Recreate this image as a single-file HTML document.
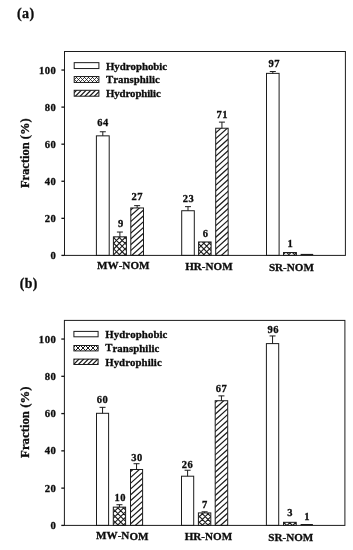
<!DOCTYPE html>
<html><head><meta charset="utf-8"><title>Fraction chart</title>
<style>
html,body{margin:0;padding:0;background:#fff;}
svg{display:block;filter:blur(0.3px);}
text{font-family:"Liberation Serif",serif;font-weight:bold;fill:#0c0c0c;stroke:#0c0c0c;stroke-width:0.3px;font-kerning:none;}
</style></head>
<body>
<svg width="353" height="550" viewBox="0 0 353 550">
<rect width="353" height="550" fill="#fff"/>
<rect x="96.40" y="135.84" width="12.80" height="119.56" fill="#fff" stroke="#1c1c1c" stroke-width="1.0"/>
<path d="M102.80 135.84V131.76M99.80 131.76H105.80" stroke="#1c1c1c" stroke-width="1.0" fill="none"/>
<text transform="rotate(0.02 103.00 126.20)" x="103.00" y="126.20" text-anchor="middle" font-size="10.5" letter-spacing="0.5">64</text>
<clipPath id="c1"><rect x="113.40" y="236.86" width="13.00" height="18.54"/></clipPath>
<rect x="113.40" y="236.86" width="13.00" height="18.54" fill="#fff"/>
<path d="M112.40 227.57L127.40 212.57M112.40 233.24L127.40 218.24M112.40 238.91L127.40 223.91M112.40 244.58L127.40 229.58M112.40 250.25L127.40 235.25M112.40 255.92L127.40 240.92M112.40 261.59L127.40 246.59M112.40 267.26L127.40 252.26M112.40 272.93L127.40 257.93M112.40 278.60L127.40 263.60M112.40 213.67L127.40 228.67M112.40 219.34L127.40 234.34M112.40 225.01L127.40 240.01M112.40 230.68L127.40 245.68M112.40 236.35L127.40 251.35M112.40 242.02L127.40 257.02M112.40 247.69L127.40 262.69M112.40 253.36L127.40 268.36M112.40 259.03L127.40 274.03M112.40 264.70L127.40 279.70" stroke="#1c1c1c" stroke-width="1.1" fill="none" clip-path="url(#c1)"/>
<rect x="113.40" y="236.86" width="13.00" height="18.54" fill="none" stroke="#1c1c1c" stroke-width="1.0"/>
<path d="M119.90 236.86V232.04M116.90 232.04H122.90" stroke="#1c1c1c" stroke-width="1.0" fill="none"/>
<text transform="rotate(0.02 120.50 227.50)" x="120.50" y="227.50" text-anchor="middle" font-size="10.5" letter-spacing="0">9</text>
<clipPath id="c2"><rect x="130.80" y="207.95" width="12.70" height="47.45"/></clipPath>
<rect x="130.80" y="207.95" width="12.70" height="47.45" fill="#fff"/>
<path d="M129.80 199.20L144.50 185.97M129.80 205.00L144.50 191.77M129.80 210.80L144.50 197.57M129.80 216.60L144.50 203.37M129.80 222.40L144.50 209.17M129.80 228.20L144.50 214.97M129.80 234.00L144.50 220.77M129.80 239.80L144.50 226.57M129.80 245.60L144.50 232.37M129.80 251.40L144.50 238.17M129.80 257.20L144.50 243.97M129.80 263.00L144.50 249.77M129.80 268.80L144.50 255.57M129.80 274.60L144.50 261.37" stroke="#1c1c1c" stroke-width="1.2" fill="none" clip-path="url(#c2)"/>
<rect x="130.80" y="207.95" width="12.70" height="47.45" fill="none" stroke="#1c1c1c" stroke-width="1.0"/>
<path d="M137.15 207.95V205.63M134.15 205.63H140.15" stroke="#1c1c1c" stroke-width="1.0" fill="none"/>
<text transform="rotate(0.02 137.25 200.40)" x="137.25" y="200.40" text-anchor="middle" font-size="10.5" letter-spacing="0.5">27</text>
<rect x="181.70" y="210.73" width="12.60" height="44.67" fill="#fff" stroke="#1c1c1c" stroke-width="1.0"/>
<path d="M188.00 210.73V206.65M185.00 206.65H191.00" stroke="#1c1c1c" stroke-width="1.0" fill="none"/>
<text transform="rotate(0.02 188.55 201.80)" x="188.55" y="201.80" text-anchor="middle" font-size="10.5" letter-spacing="0.5">23</text>
<clipPath id="c3"><rect x="198.60" y="241.96" width="12.50" height="13.44"/></clipPath>
<rect x="198.60" y="241.96" width="12.50" height="13.44" fill="#fff"/>
<path d="M197.60 232.42L212.10 217.92M197.60 238.09L212.10 223.59M197.60 243.76L212.10 229.26M197.60 249.43L212.10 234.93M197.60 255.10L212.10 240.60M197.60 260.77L212.10 246.27M197.60 266.44L212.10 251.94M197.60 272.11L212.10 257.61M197.60 277.78L212.10 263.28M197.60 220.02L212.10 234.52M197.60 225.69L212.10 240.19M197.60 231.36L212.10 245.86M197.60 237.03L212.10 251.53M197.60 242.70L212.10 257.20M197.60 248.37L212.10 262.87M197.60 254.04L212.10 268.54M197.60 259.71L212.10 274.21M197.60 265.38L212.10 279.88" stroke="#1c1c1c" stroke-width="1.1" fill="none" clip-path="url(#c3)"/>
<rect x="198.60" y="241.96" width="12.50" height="13.44" fill="none" stroke="#1c1c1c" stroke-width="1.0"/>
<text transform="rotate(0.02 205.45 237.20)" x="205.45" y="237.20" text-anchor="middle" font-size="10.5" letter-spacing="0">6</text>
<clipPath id="c4"><rect x="215.70" y="128.24" width="12.45" height="127.16"/></clipPath>
<rect x="215.70" y="128.24" width="12.45" height="127.16" fill="#fff"/>
<path d="M214.70 122.20L229.15 109.19M214.70 128.00L229.15 114.99M214.70 133.80L229.15 120.79M214.70 139.60L229.15 126.59M214.70 145.40L229.15 132.39M214.70 151.20L229.15 138.19M214.70 157.00L229.15 144.00M214.70 162.80L229.15 149.79M214.70 168.60L229.15 155.59M214.70 174.40L229.15 161.39M214.70 180.20L229.15 167.19M214.70 186.00L229.15 172.99M214.70 191.80L229.15 178.79M214.70 197.60L229.15 184.59M214.70 203.40L229.15 190.39M214.70 209.20L229.15 196.19M214.70 215.00L229.15 201.99M214.70 220.80L229.15 207.79M214.70 226.60L229.15 213.59M214.70 232.40L229.15 219.39M214.70 238.20L229.15 225.19M214.70 244.00L229.15 230.99M214.70 249.80L229.15 236.79M214.70 255.60L229.15 242.59M214.70 261.40L229.15 248.39M214.70 267.20L229.15 254.19M214.70 273.00L229.15 260.00M214.70 278.80L229.15 265.79" stroke="#1c1c1c" stroke-width="1.2" fill="none" clip-path="url(#c4)"/>
<rect x="215.70" y="128.24" width="12.45" height="127.16" fill="none" stroke="#1c1c1c" stroke-width="1.0"/>
<path d="M221.93 128.24V122.12M218.93 122.12H224.93" stroke="#1c1c1c" stroke-width="1.0" fill="none"/>
<text transform="rotate(0.02 222.25 118.40)" x="222.25" y="118.40" text-anchor="middle" font-size="10.5" letter-spacing="0.5">71</text>
<rect x="266.50" y="73.37" width="12.60" height="182.03" fill="#fff" stroke="#1c1c1c" stroke-width="1.0"/>
<path d="M272.80 73.37V71.52M269.80 71.52H275.80" stroke="#1c1c1c" stroke-width="1.0" fill="none"/>
<text transform="rotate(0.02 274.25 67.10)" x="274.25" y="67.10" text-anchor="middle" font-size="10.5" letter-spacing="0.5">97</text>
<clipPath id="c5"><rect x="283.50" y="252.53" width="12.90" height="2.87"/></clipPath>
<rect x="283.50" y="252.53" width="12.90" height="2.87" fill="#fff"/>
<path d="M282.50 243.94L297.40 229.04M282.50 249.61L297.40 234.71M282.50 255.28L297.40 240.38M282.50 260.95L297.40 246.05M282.50 266.62L297.40 251.72M282.50 272.29L297.40 257.39M282.50 277.96L297.40 263.06M282.50 231.24L297.40 246.14M282.50 236.91L297.40 251.81M282.50 242.58L297.40 257.48M282.50 248.25L297.40 263.15M282.50 253.92L297.40 268.82M282.50 259.59L297.40 274.49M282.50 265.26L297.40 280.16" stroke="#1c1c1c" stroke-width="1.1" fill="none" clip-path="url(#c5)"/>
<rect x="283.50" y="252.53" width="12.90" height="2.87" fill="none" stroke="#1c1c1c" stroke-width="1.0"/>
<text transform="rotate(0.02 290.20 247.20)" x="290.20" y="247.20" text-anchor="middle" font-size="10.5" letter-spacing="0">1</text>
<line x1="300.60" y1="254.60" x2="313.20" y2="254.60" stroke="#1c1c1c" stroke-width="1.4"/>
<rect x="64.5" y="51.5" width="280.9" height="203.9" fill="none" stroke="#1c1c1c" stroke-width="1.0"/>
<line x1="61.4" y1="255.40" x2="64.5" y2="255.40" stroke="#111" stroke-width="1.3"/>
<text transform="rotate(0.02 55.8 259.10)" x="55.8" y="259.10" text-anchor="end" font-size="10.6" letter-spacing="0">0</text>
<line x1="61.4" y1="218.33" x2="64.5" y2="218.33" stroke="#111" stroke-width="1.3"/>
<text transform="rotate(0.02 56.25 222.03)" x="56.25" y="222.03" text-anchor="end" font-size="10.6" letter-spacing="0.45">20</text>
<line x1="61.4" y1="181.25" x2="64.5" y2="181.25" stroke="#111" stroke-width="1.3"/>
<text transform="rotate(0.02 56.25 184.95)" x="56.25" y="184.95" text-anchor="end" font-size="10.6" letter-spacing="0.45">40</text>
<line x1="61.4" y1="144.18" x2="64.5" y2="144.18" stroke="#111" stroke-width="1.3"/>
<text transform="rotate(0.02 56.25 147.88)" x="56.25" y="147.88" text-anchor="end" font-size="10.6" letter-spacing="0.45">60</text>
<line x1="61.4" y1="107.11" x2="64.5" y2="107.11" stroke="#111" stroke-width="1.3"/>
<text transform="rotate(0.02 56.25 110.81)" x="56.25" y="110.81" text-anchor="end" font-size="10.6" letter-spacing="0.45">80</text>
<line x1="61.4" y1="70.04" x2="64.5" y2="70.04" stroke="#111" stroke-width="1.3"/>
<text transform="rotate(0.02 56.25 73.74)" x="56.25" y="73.74" text-anchor="end" font-size="10.6" letter-spacing="0.45">100</text>
<text transform="rotate(0.02 123.3 269.3)" x="123.3" y="269.3" text-anchor="middle" font-size="11.1">MW-NOM</text>
<text transform="rotate(0.02 208.9 270.2)" x="208.9" y="270.2" text-anchor="middle" font-size="11.1">HR-NOM</text>
<text transform="rotate(0.02 291.4 270.7)" x="291.4" y="270.7" text-anchor="middle" font-size="11.1">SR-NOM</text>
<text transform="translate(29.0 153.2) rotate(-90)" text-anchor="middle" font-size="12.5">Fraction (%)</text>
<text transform="rotate(0.02 16.9 18.3)" x="16.9" y="18.3" font-size="14" letter-spacing="0.45">(a)</text>
<rect x="74.20" y="62.65" width="24.70" height="5.90" fill="#fff" stroke="#1c1c1c" stroke-width="1.0"/>
<text transform="rotate(0.02 105.9 69.6)" x="105.9" y="69.6" font-size="10.8" letter-spacing="0">Hydrophobic</text>
<clipPath id="c6"><rect x="74.20" y="76.55" width="24.70" height="5.90"/></clipPath>
<rect x="74.20" y="76.55" width="24.70" height="5.90" fill="#fff"/>
<path d="M73.20 72.80L99.90 46.10M73.20 76.80L99.90 50.10M73.20 80.80L99.90 54.10M73.20 84.80L99.90 58.10M73.20 88.80L99.90 62.10M73.20 92.80L99.90 66.10M73.20 96.80L99.90 70.10M73.20 100.80L99.90 74.10M73.20 104.80L99.90 78.10M73.20 108.80L99.90 82.10M73.20 112.80L99.90 86.10M73.20 46.20L99.90 72.90M73.20 50.20L99.90 76.90M73.20 54.20L99.90 80.90M73.20 58.20L99.90 84.90M73.20 62.20L99.90 88.90M73.20 66.20L99.90 92.90M73.20 70.20L99.90 96.90M73.20 74.20L99.90 100.90M73.20 78.20L99.90 104.90M73.20 82.20L99.90 108.90M73.20 86.20L99.90 112.90" stroke="#1c1c1c" stroke-width="0.8" fill="none" clip-path="url(#c6)"/>
<rect x="74.20" y="76.55" width="24.70" height="5.90" fill="none" stroke="#1c1c1c" stroke-width="1.0"/>
<text transform="rotate(0.02 105.9 83.1)" x="105.9" y="83.1" font-size="10.8" letter-spacing="0.05">Transphilic</text>
<clipPath id="c7"><rect x="74.20" y="90.30" width="24.70" height="5.90"/></clipPath>
<rect x="74.20" y="90.30" width="24.70" height="5.90" fill="#fff"/>
<path d="M73.20 84.12L99.90 57.42M73.20 88.88L99.90 62.18M73.20 93.64L99.90 66.94M73.20 98.40L99.90 71.70M73.20 103.16L99.90 76.46M73.20 107.92L99.90 81.22M73.20 112.68L99.90 85.98M73.20 117.44L99.90 90.74M73.20 122.20L99.90 95.50M73.20 126.96L99.90 100.26" stroke="#1c1c1c" stroke-width="1.25" fill="none" clip-path="url(#c7)"/>
<rect x="74.20" y="90.30" width="24.70" height="5.90" fill="none" stroke="#1c1c1c" stroke-width="1.0"/>
<text transform="rotate(0.02 105.9 96.7)" x="105.9" y="96.7" font-size="10.8" letter-spacing="-0.1">Hydrophilic</text>
<rect x="96.50" y="413.30" width="12.10" height="112.10" fill="#fff" stroke="#1c1c1c" stroke-width="1.0"/>
<path d="M102.55 413.30V407.34M99.55 407.34H105.55" stroke="#1c1c1c" stroke-width="1.0" fill="none"/>
<text transform="rotate(0.02 102.55 403.30)" x="102.55" y="403.30" text-anchor="middle" font-size="10.5" letter-spacing="0.5">60</text>
<clipPath id="c8"><rect x="113.30" y="507.14" width="12.30" height="18.26"/></clipPath>
<rect x="113.30" y="507.14" width="12.30" height="18.26" fill="#fff"/>
<path d="M112.30 502.19L126.60 487.89M112.30 507.86L126.60 493.56M112.30 513.53L126.60 499.23M112.30 519.20L126.60 504.90M112.30 524.87L126.60 510.57M112.30 530.54L126.60 516.24M112.30 536.21L126.60 521.91M112.30 541.88L126.60 527.58M112.30 547.55L126.60 533.25M112.30 485.32L126.60 499.62M112.30 490.99L126.60 505.29M112.30 496.66L126.60 510.96M112.30 502.33L126.60 516.63M112.30 508.00L126.60 522.30M112.30 513.67L126.60 527.97M112.30 519.34L126.60 533.64M112.30 525.01L126.60 539.31M112.30 530.68L126.60 544.98" stroke="#1c1c1c" stroke-width="1.1" fill="none" clip-path="url(#c8)"/>
<rect x="113.30" y="507.14" width="12.30" height="18.26" fill="none" stroke="#1c1c1c" stroke-width="1.0"/>
<path d="M119.45 507.14V504.71M116.45 504.71H122.45" stroke="#1c1c1c" stroke-width="1.0" fill="none"/>
<text transform="rotate(0.02 120.35 501.00)" x="120.35" y="501.00" text-anchor="middle" font-size="10.5" letter-spacing="0.5">10</text>
<clipPath id="c9"><rect x="130.50" y="469.49" width="12.10" height="55.91"/></clipPath>
<rect x="130.50" y="469.49" width="12.10" height="55.91" fill="#fff"/>
<path d="M129.50 461.00L143.60 448.31M129.50 466.80L143.60 454.11M129.50 472.60L143.60 459.91M129.50 478.40L143.60 465.71M129.50 484.20L143.60 471.51M129.50 490.00L143.60 477.31M129.50 495.80L143.60 483.11M129.50 501.60L143.60 488.91M129.50 507.40L143.60 494.71M129.50 513.20L143.60 500.51M129.50 519.00L143.60 506.31M129.50 524.80L143.60 512.11M129.50 530.60L143.60 517.91M129.50 536.40L143.60 523.71M129.50 542.20L143.60 529.51M129.50 548.00L143.60 535.31" stroke="#1c1c1c" stroke-width="1.2" fill="none" clip-path="url(#c9)"/>
<rect x="130.50" y="469.49" width="12.10" height="55.91" fill="none" stroke="#1c1c1c" stroke-width="1.0"/>
<path d="M136.55 469.49V463.71M133.55 463.71H139.55" stroke="#1c1c1c" stroke-width="1.0" fill="none"/>
<text transform="rotate(0.02 137.05 461.30)" x="137.05" y="461.30" text-anchor="middle" font-size="10.5" letter-spacing="0.5">30</text>
<rect x="181.50" y="476.20" width="12.20" height="49.20" fill="#fff" stroke="#1c1c1c" stroke-width="1.0"/>
<path d="M187.60 476.20V470.24M184.60 470.24H190.60" stroke="#1c1c1c" stroke-width="1.0" fill="none"/>
<text transform="rotate(0.02 187.55 467.60)" x="187.55" y="467.60" text-anchor="middle" font-size="10.5" letter-spacing="0.5">26</text>
<clipPath id="c10"><rect x="198.40" y="512.91" width="12.40" height="12.49"/></clipPath>
<rect x="198.40" y="512.91" width="12.40" height="12.49" fill="#fff"/>
<path d="M197.40 507.39L211.80 492.99M197.40 513.06L211.80 498.66M197.40 518.73L211.80 504.33M197.40 524.40L211.80 510.00M197.40 530.07L211.80 515.67M197.40 535.74L211.80 521.34M197.40 541.41L211.80 527.01M197.40 547.08L211.80 532.68M197.40 491.79L211.80 506.19M197.40 497.46L211.80 511.86M197.40 503.13L211.80 517.53M197.40 508.80L211.80 523.20M197.40 514.47L211.80 528.87M197.40 520.14L211.80 534.54M197.40 525.81L211.80 540.21M197.40 531.48L211.80 545.88" stroke="#1c1c1c" stroke-width="1.1" fill="none" clip-path="url(#c10)"/>
<rect x="198.40" y="512.91" width="12.40" height="12.49" fill="none" stroke="#1c1c1c" stroke-width="1.0"/>
<path d="M204.60 512.91V511.80M201.60 511.80H207.60" stroke="#1c1c1c" stroke-width="1.0" fill="none"/>
<text transform="rotate(0.02 204.60 507.80)" x="204.60" y="507.80" text-anchor="middle" font-size="10.5" letter-spacing="0">7</text>
<clipPath id="c11"><rect x="215.20" y="400.72" width="12.50" height="124.68"/></clipPath>
<rect x="215.20" y="400.72" width="12.50" height="124.68" fill="#fff"/>
<path d="M214.20 391.90L228.70 378.85M214.20 397.70L228.70 384.65M214.20 403.50L228.70 390.45M214.20 409.30L228.70 396.25M214.20 415.10L228.70 402.05M214.20 420.90L228.70 407.85M214.20 426.70L228.70 413.65M214.20 432.50L228.70 419.45M214.20 438.30L228.70 425.25M214.20 444.10L228.70 431.05M214.20 449.90L228.70 436.85M214.20 455.70L228.70 442.65M214.20 461.50L228.70 448.45M214.20 467.30L228.70 454.25M214.20 473.10L228.70 460.05M214.20 478.90L228.70 465.85M214.20 484.70L228.70 471.65M214.20 490.50L228.70 477.45M214.20 496.30L228.70 483.25M214.20 502.10L228.70 489.05M214.20 507.90L228.70 494.85M214.20 513.70L228.70 500.65M214.20 519.50L228.70 506.45M214.20 525.30L228.70 512.25M214.20 531.10L228.70 518.05M214.20 536.90L228.70 523.85M214.20 542.70L228.70 529.65M214.20 548.50L228.70 535.45" stroke="#1c1c1c" stroke-width="1.2" fill="none" clip-path="url(#c11)"/>
<rect x="215.20" y="400.72" width="12.50" height="124.68" fill="none" stroke="#1c1c1c" stroke-width="1.0"/>
<path d="M221.45 400.72V395.88M218.45 395.88H224.45" stroke="#1c1c1c" stroke-width="1.0" fill="none"/>
<text transform="rotate(0.02 221.45 391.80)" x="221.45" y="391.80" text-anchor="middle" font-size="10.5" letter-spacing="0.5">67</text>
<rect x="266.40" y="343.60" width="12.30" height="181.80" fill="#fff" stroke="#1c1c1c" stroke-width="1.0"/>
<path d="M272.55 343.60V335.96M269.55 335.96H275.55" stroke="#1c1c1c" stroke-width="1.0" fill="none"/>
<text transform="rotate(0.02 273.35 333.30)" x="273.35" y="333.30" text-anchor="middle" font-size="10.5" letter-spacing="0.5">96</text>
<clipPath id="c12"><rect x="283.50" y="522.32" width="12.70" height="3.08"/></clipPath>
<rect x="283.50" y="522.32" width="12.70" height="3.08" fill="#fff"/>
<path d="M282.50 512.99L297.20 498.29M282.50 518.66L297.20 503.96M282.50 524.33L297.20 509.63M282.50 530.00L297.20 515.30M282.50 535.67L297.20 520.97M282.50 541.34L297.20 526.64M282.50 547.01L297.20 532.31M282.50 498.52L297.20 513.22M282.50 504.19L297.20 518.89M282.50 509.86L297.20 524.56M282.50 515.53L297.20 530.23M282.50 521.20L297.20 535.90M282.50 526.87L297.20 541.57M282.50 532.54L297.20 547.24" stroke="#1c1c1c" stroke-width="1.1" fill="none" clip-path="url(#c12)"/>
<rect x="283.50" y="522.32" width="12.70" height="3.08" fill="none" stroke="#1c1c1c" stroke-width="1.0"/>
<text transform="rotate(0.02 289.80 516.20)" x="289.80" y="516.20" text-anchor="middle" font-size="10.5" letter-spacing="0">3</text>
<line x1="300.60" y1="524.70" x2="312.90" y2="524.70" stroke="#1c1c1c" stroke-width="1.4"/>
<text transform="rotate(0.02 307.00 520.00)" x="307.00" y="520.00" text-anchor="middle" font-size="10.5" letter-spacing="0">1</text>
<rect x="64.4" y="320.4" width="280.5" height="205.0" fill="none" stroke="#1c1c1c" stroke-width="1.0"/>
<line x1="61.300000000000004" y1="525.40" x2="64.4" y2="525.40" stroke="#111" stroke-width="1.3"/>
<text transform="rotate(0.02 55.8 529.00)" x="55.8" y="529.00" text-anchor="end" font-size="10.7" letter-spacing="0">0</text>
<line x1="61.300000000000004" y1="488.13" x2="64.4" y2="488.13" stroke="#111" stroke-width="1.3"/>
<text transform="rotate(0.02 56.25 491.73)" x="56.25" y="491.73" text-anchor="end" font-size="10.7" letter-spacing="0.45">20</text>
<line x1="61.300000000000004" y1="450.85" x2="64.4" y2="450.85" stroke="#111" stroke-width="1.3"/>
<text transform="rotate(0.02 56.25 454.45)" x="56.25" y="454.45" text-anchor="end" font-size="10.7" letter-spacing="0.45">40</text>
<line x1="61.300000000000004" y1="413.58" x2="64.4" y2="413.58" stroke="#111" stroke-width="1.3"/>
<text transform="rotate(0.02 56.25 417.18)" x="56.25" y="417.18" text-anchor="end" font-size="10.7" letter-spacing="0.45">60</text>
<line x1="61.300000000000004" y1="376.31" x2="64.4" y2="376.31" stroke="#111" stroke-width="1.3"/>
<text transform="rotate(0.02 56.25 379.91)" x="56.25" y="379.91" text-anchor="end" font-size="10.7" letter-spacing="0.45">80</text>
<line x1="61.300000000000004" y1="339.04" x2="64.4" y2="339.04" stroke="#111" stroke-width="1.3"/>
<text transform="rotate(0.02 56.25 342.64)" x="56.25" y="342.64" text-anchor="end" font-size="10.7" letter-spacing="0.45">100</text>
<text transform="rotate(0.02 122.3 539.5)" x="122.3" y="539.5" text-anchor="middle" font-size="11.1">MW-NOM</text>
<text transform="rotate(0.02 208.4 540.4)" x="208.4" y="540.4" text-anchor="middle" font-size="11.1">HR-NOM</text>
<text transform="rotate(0.02 290.8 540.7)" x="290.8" y="540.7" text-anchor="middle" font-size="11.1">SR-NOM</text>
<text transform="translate(29.4 422.2) rotate(-90)" text-anchor="middle" font-size="12.8">Fraction (%)</text>
<text transform="rotate(0.02 19.8 288.0)" x="19.8" y="288.0" font-size="13.7" letter-spacing="0.45">(b)</text>
<rect x="73.90" y="331.40" width="24.20" height="5.40" fill="#fff" stroke="#1c1c1c" stroke-width="1.0"/>
<text transform="rotate(0.02 105.2 337.9)" x="105.2" y="337.9" font-size="10.8" letter-spacing="0.1">Hydrophobic</text>
<clipPath id="c13"><rect x="73.90" y="345.50" width="24.20" height="5.40"/></clipPath>
<rect x="73.90" y="345.50" width="24.20" height="5.40" fill="#fff"/>
<path d="M72.90 338.10L99.10 311.90M72.90 343.10L99.10 316.90M72.90 348.10L99.10 321.90M72.90 353.10L99.10 326.90M72.90 358.10L99.10 331.90M72.90 363.10L99.10 336.90M72.90 368.10L99.10 341.90M72.90 373.10L99.10 346.90M72.90 378.10L99.10 351.90M72.90 383.10L99.10 356.90M72.90 312.90L99.10 339.10M72.90 317.90L99.10 344.10M72.90 322.90L99.10 349.10M72.90 327.90L99.10 354.10M72.90 332.90L99.10 359.10M72.90 337.90L99.10 364.10M72.90 342.90L99.10 369.10M72.90 347.90L99.10 374.10M72.90 352.90L99.10 379.10M72.90 357.90L99.10 384.10" stroke="#1c1c1c" stroke-width="1.0" fill="none" clip-path="url(#c13)"/>
<rect x="73.90" y="345.50" width="24.20" height="5.40" fill="none" stroke="#1c1c1c" stroke-width="1.0"/>
<text transform="rotate(0.02 105.2 351.5)" x="105.2" y="351.5" font-size="10.8" letter-spacing="0.08">Transphilic</text>
<clipPath id="c14"><rect x="73.90" y="359.10" width="24.20" height="5.40"/></clipPath>
<rect x="73.90" y="359.10" width="24.20" height="5.40" fill="#fff"/>
<path d="M72.90 351.10L99.10 324.90M72.90 355.80L99.10 329.60M72.90 360.50L99.10 334.30M72.90 365.20L99.10 339.00M72.90 369.90L99.10 343.70M72.90 374.60L99.10 348.40M72.90 379.30L99.10 353.10M72.90 384.00L99.10 357.80M72.90 388.70L99.10 362.50M72.90 393.40L99.10 367.20M72.90 398.10L99.10 371.90" stroke="#1c1c1c" stroke-width="1.25" fill="none" clip-path="url(#c14)"/>
<rect x="73.90" y="359.10" width="24.20" height="5.40" fill="none" stroke="#1c1c1c" stroke-width="1.0"/>
<text transform="rotate(0.02 105.2 365.7)" x="105.2" y="365.7" font-size="10.8" letter-spacing="0.07">Hydrophilic</text>
</svg>
</body></html>
